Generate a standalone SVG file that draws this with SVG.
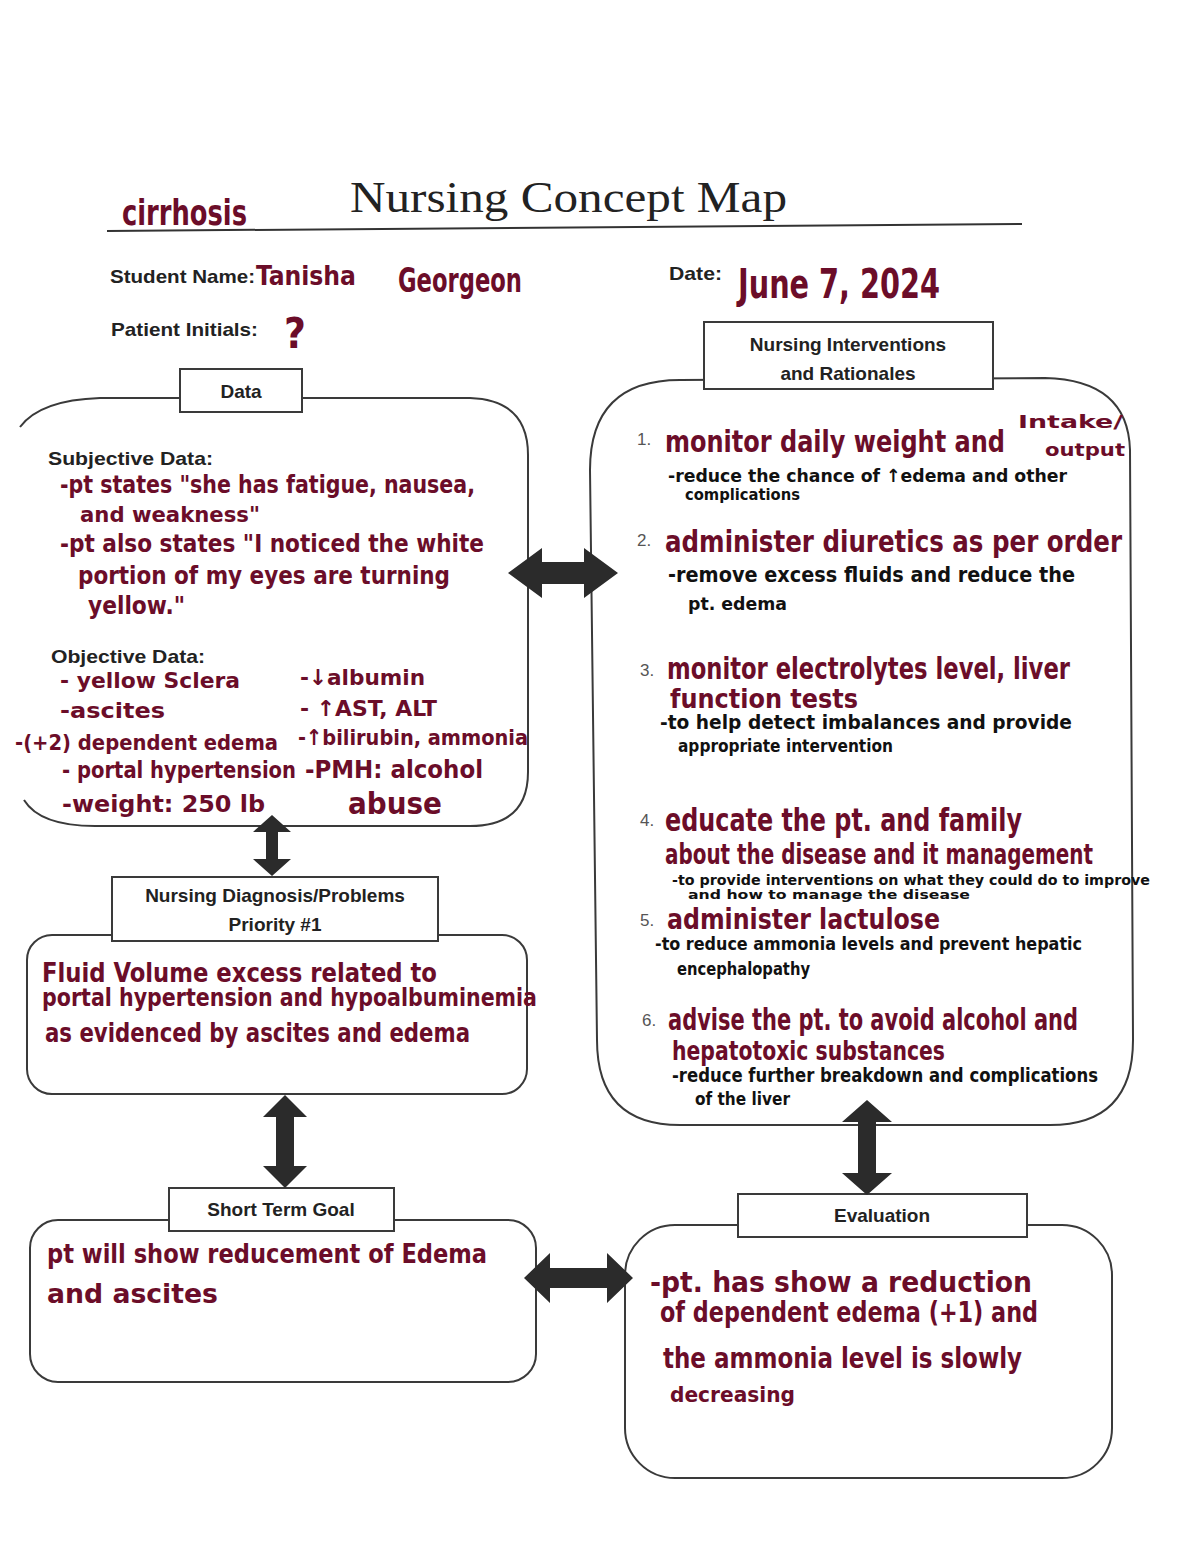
<svg xmlns="http://www.w3.org/2000/svg" width="1200" height="1555" viewBox="0 0 1200 1555">
<style>
.box{fill:#fff;stroke:#3a3a3a;stroke-width:2}
.hdr{fill:#fff;stroke:#3a3a3a;stroke-width:2}
.ht{font-family:"Liberation Sans",Arial,sans-serif;font-weight:bold;font-size:19px;fill:#222;text-anchor:middle}
.lbl{font-family:"Liberation Sans",Arial,sans-serif;font-weight:bold;font-size:19px;fill:#222}
.num{font-family:"Liberation Sans",Arial,sans-serif;font-size:17px;fill:#555}
.hw{font-family:"DejaVu Sans Condensed","DejaVu Sans",sans-serif;font-weight:bold;fill:#6b0d29}
.hb{font-family:"DejaVu Sans Condensed","DejaVu Sans",sans-serif;font-weight:bold;fill:#111}
.arr{fill:#2b2b2b}
</style>
<rect width="1200" height="1555" fill="#fff"/>

<g id="header">
<text x="350" y="212" font-family="'Liberation Serif',serif" font-size="45" fill="#222" textLength="437" lengthAdjust="spacingAndGlyphs">Nursing Concept Map</text>
<text class="hw" x="122" y="225" font-size="36" textLength="125" lengthAdjust="spacingAndGlyphs">cirrhosis</text>
<line x1="107" y1="231" x2="1022" y2="224" stroke="#333" stroke-width="2"/>
<text class="lbl" x="110" y="283" textLength="145" lengthAdjust="spacingAndGlyphs">Student Name:</text>
<text class="hw" x="256" y="285" font-size="26" textLength="100" lengthAdjust="spacingAndGlyphs">Tanisha</text>
<text class="hw" x="398" y="292" font-size="34" textLength="124" lengthAdjust="spacingAndGlyphs">Georgeon</text>
<text class="lbl" x="669" y="280" textLength="53" lengthAdjust="spacingAndGlyphs">Date:</text>
<text class="hw" x="738" y="298" font-size="40" textLength="202" lengthAdjust="spacingAndGlyphs">June 7, 2024</text>
<text class="lbl" x="111" y="336" textLength="147" lengthAdjust="spacingAndGlyphs">Patient Initials:</text>
<text class="hw" x="284" y="348" font-size="42">?</text>
</g>

<g id="data">
<path class="box" d="M20,427 Q40,400 100,398 L470,398 Q528,400 528,455 L528,772 Q528,826 470,826 L95,826 Q40,826 24,800"/>
<rect class="hdr" x="180" y="369" width="122" height="43"/>
<text class="ht" x="241" y="398">Data</text>
<text class="lbl" x="48" y="465" textLength="165" lengthAdjust="spacingAndGlyphs">Subjective Data:</text>
<text class="hw" x="60" y="493" font-size="24" textLength="415" lengthAdjust="spacingAndGlyphs">-pt states "she has fatigue, nausea,</text>
<text class="hw" x="80" y="522" font-size="22" textLength="180" lengthAdjust="spacingAndGlyphs">and weakness"</text>
<text class="hw" x="60" y="552" font-size="24" textLength="424" lengthAdjust="spacingAndGlyphs">-pt also states "I noticed the white</text>
<text class="hw" x="78" y="584" font-size="25" textLength="372" lengthAdjust="spacingAndGlyphs">portion of my eyes are turning</text>
<text class="hw" x="88" y="614" font-size="24" textLength="97" lengthAdjust="spacingAndGlyphs">yellow."</text>
<text class="lbl" x="51" y="663" textLength="154" lengthAdjust="spacingAndGlyphs">Objective Data:</text>
<text class="hw" x="60" y="688" font-size="22" textLength="180" lengthAdjust="spacingAndGlyphs">- yellow Sclera</text>
<text class="hw" x="60" y="718" font-size="22" textLength="105" lengthAdjust="spacingAndGlyphs">-ascites</text>
<text class="hw" x="15" y="750" font-size="22" textLength="263" lengthAdjust="spacingAndGlyphs">-(+2) dependent edema</text>
<text class="hw" x="62" y="778" font-size="23" textLength="234" lengthAdjust="spacingAndGlyphs">- portal hypertension</text>
<text class="hw" x="62" y="812" font-size="23" textLength="203" lengthAdjust="spacingAndGlyphs">-weight: 250 lb</text>
<text class="hw" x="300" y="685" font-size="22" textLength="125" lengthAdjust="spacingAndGlyphs">-↓albumin</text>
<text class="hw" x="300" y="716" font-size="22" textLength="137" lengthAdjust="spacingAndGlyphs">- ↑AST, ALT</text>
<text class="hw" x="298" y="745" font-size="22" textLength="230" lengthAdjust="spacingAndGlyphs">-↑bilirubin, ammonia</text>
<text class="hw" x="305" y="778" font-size="24" textLength="178" lengthAdjust="spacingAndGlyphs">-PMH: alcohol</text>
<text class="hw" x="348" y="814" font-size="30" textLength="94" lengthAdjust="spacingAndGlyphs">abuse</text>
</g>

<g id="interventions">
<path class="box" d="M590,470 Q590,380 680,380 L1045,378 Q1128,380 1130,450 L1133,1040 Q1133,1125 1050,1125 L680,1125 Q597,1125 597,1040 Z"/>
<rect class="hdr" x="704" y="322" width="289" height="67"/>
<text class="ht" x="848" y="351">Nursing Interventions</text>
<text class="ht" x="848" y="380">and Rationales</text>
<text class="num" x="637" y="445">1.</text>
<text class="hw" x="665" y="452" font-size="30" textLength="340" lengthAdjust="spacingAndGlyphs">monitor daily weight and</text>
<text class="hw" x="1018" y="428" font-size="18" textLength="105" lengthAdjust="spacingAndGlyphs">Intake/</text>
<text class="hw" x="1045" y="456" font-size="18" textLength="80" lengthAdjust="spacingAndGlyphs">output</text>
<text class="hb" x="668" y="482" font-size="18" textLength="399" lengthAdjust="spacingAndGlyphs">-reduce the chance of ↑edema and other</text>
<text class="hb" x="685" y="500" font-size="16" textLength="115" lengthAdjust="spacingAndGlyphs">complications</text>
<text class="num" x="637" y="546">2.</text>
<text class="hw" x="665" y="552" font-size="30" textLength="457" lengthAdjust="spacingAndGlyphs">administer diuretics as per order</text>
<text class="hb" x="668" y="582" font-size="21" textLength="407" lengthAdjust="spacingAndGlyphs">-remove excess fluids and reduce the</text>
<text class="hb" x="688" y="610" font-size="18" textLength="99" lengthAdjust="spacingAndGlyphs">pt. edema</text>
<text class="num" x="640" y="676">3.</text>
<text class="hw" x="667" y="679" font-size="30" textLength="403" lengthAdjust="spacingAndGlyphs">monitor electrolytes level, liver</text>
<text class="hw" x="670" y="708" font-size="26" textLength="188" lengthAdjust="spacingAndGlyphs">function tests</text>
<text class="hb" x="660" y="729" font-size="19" textLength="412" lengthAdjust="spacingAndGlyphs">-to help detect imbalances and provide</text>
<text class="hb" x="678" y="752" font-size="18" textLength="215" lengthAdjust="spacingAndGlyphs">appropriate intervention</text>
<text class="num" x="640" y="826">4.</text>
<text class="hw" x="665" y="831" font-size="32" textLength="357" lengthAdjust="spacingAndGlyphs">educate the pt. and family</text>
<text class="hw" x="665" y="864" font-size="28" textLength="428" lengthAdjust="spacingAndGlyphs">about the disease and it management</text>
<text class="hb" x="672" y="885" font-size="14" textLength="478" lengthAdjust="spacingAndGlyphs">-to provide interventions on what they could do to improve</text>
<text class="hb" x="688" y="899" font-size="12" textLength="282" lengthAdjust="spacingAndGlyphs">and how to manage the disease</text>
<text class="num" x="640" y="926">5.</text>
<text class="hw" x="667" y="929" font-size="29" textLength="273" lengthAdjust="spacingAndGlyphs">administer lactulose</text>
<text class="hb" x="655" y="950" font-size="18" textLength="427" lengthAdjust="spacingAndGlyphs">-to reduce ammonia levels and prevent hepatic</text>
<text class="hb" x="677" y="975" font-size="18" textLength="133" lengthAdjust="spacingAndGlyphs">encephalopathy</text>
<text class="num" x="642" y="1026">6.</text>
<text class="hw" x="668" y="1030" font-size="30" textLength="410" lengthAdjust="spacingAndGlyphs">advise the pt. to avoid alcohol and</text>
<text class="hw" x="672" y="1060" font-size="27" textLength="273" lengthAdjust="spacingAndGlyphs">hepatotoxic substances</text>
<text class="hb" x="672" y="1082" font-size="19" textLength="426" lengthAdjust="spacingAndGlyphs">-reduce further breakdown and complications</text>
<text class="hb" x="695" y="1105" font-size="18" textLength="95" lengthAdjust="spacingAndGlyphs">of the liver</text>
</g>

<g id="diagnosis">
<rect class="box" x="27" y="935" width="500" height="159" rx="25"/>
<rect class="hdr" x="112" y="877" width="326" height="64"/>
<text class="ht" x="275" y="902">Nursing Diagnosis/Problems</text>
<text class="ht" x="275" y="931">Priority #1</text>
<text class="hw" x="42" y="982" font-size="26" textLength="395" lengthAdjust="spacingAndGlyphs">Fluid Volume excess related to</text>
<text class="hw" x="42" y="1006" font-size="24" textLength="495" lengthAdjust="spacingAndGlyphs">portal hypertension and hypoalbuminemia</text>
<text class="hw" x="45" y="1042" font-size="26" textLength="425" lengthAdjust="spacingAndGlyphs">as evidenced by ascites and edema</text>
</g>

<g id="short-term-goal">
<rect class="box" x="30" y="1220" width="506" height="162" rx="28"/>
<rect class="hdr" x="169" y="1188" width="225" height="43"/>
<text class="ht" x="281" y="1216">Short Term Goal</text>
<text class="hw" x="47" y="1263" font-size="27" textLength="440" lengthAdjust="spacingAndGlyphs">pt will show reducement of Edema</text>
<text class="hw" x="47" y="1303" font-size="27" textLength="171" lengthAdjust="spacingAndGlyphs">and ascites</text>
</g>

<g id="evaluation">
<rect class="box" x="625" y="1225" width="487" height="253" rx="50"/>
<rect class="hdr" x="738" y="1194" width="289" height="43"/>
<text class="ht" x="882" y="1222">Evaluation</text>
<text class="hw" x="650" y="1292" font-size="28" textLength="382" lengthAdjust="spacingAndGlyphs">-pt. has show a reduction</text>
<text class="hw" x="660" y="1322" font-size="28" textLength="378" lengthAdjust="spacingAndGlyphs">of dependent edema (+1) and</text>
<text class="hw" x="663" y="1368" font-size="28" textLength="359" lengthAdjust="spacingAndGlyphs">the ammonia level is slowly</text>
<text class="hw" x="670" y="1402" font-size="22" textLength="125" lengthAdjust="spacingAndGlyphs">decreasing</text>
</g>

<g id="connectors">
<polygon class="arr" points="508,573 542,548 542,562 584,562 584,548 618,573 584,598 584,584 542,584 542,598"/>
<polygon class="arr" points="272,815 291,832 278,832 278,859 291,859 272,876 253,859 266,859 266,832 253,832"/>
<polygon class="arr" points="285,1095 307,1117 294,1117 294,1166 307,1166 285,1188 263,1166 276,1166 276,1117 263,1117"/>
<polygon class="arr" points="524,1278 550,1253 550,1268 607,1268 607,1253 633,1278 607,1303 607,1288 550,1288 550,1303"/>
<polygon class="arr" points="867,1100 892,1122 876,1122 876,1173 892,1173 867,1195 842,1173 858,1173 858,1122 842,1122"/>
</g>
</svg>
